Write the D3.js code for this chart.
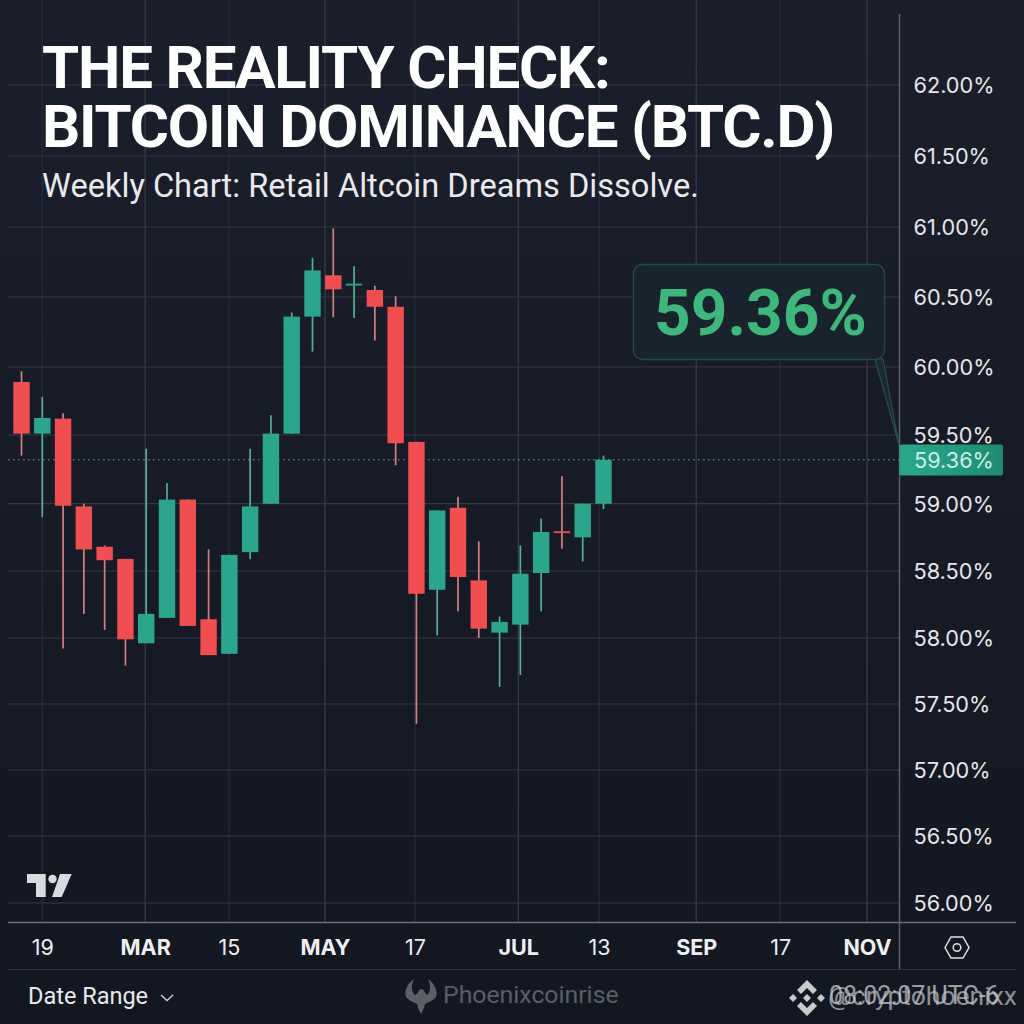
<!DOCTYPE html>
<html>
<head>
<meta charset="utf-8">
<title>Bitcoin Dominance</title>
<script src="https://cdn.jsdelivr.net/npm/d3@7/dist/d3.min.js"></script>
<style>
html, body { margin: 0; padding: 0; background: #161a25; overflow: hidden; }
text { font-family: Roboto, Inter, sans-serif; }
.axis text, text.inter { font-family: Inter, Roboto, sans-serif; }
</style>
</head>
<body>
<div id="chart"></div>
<script>
// candles, one entry per week, in percent
var opens  = [59.89,59.51,59.62,58.98,58.68,58.59,57.96,58.15,59.03,58.14,57.88,58.64,59.00,59.51,60.36,60.655,60.585,60.55,60.43,59.45,58.36,58.97,58.43,58.04,58.10,58.485,58.795,58.75,59.00];
var highs  = [59.97,59.78,59.66,59.00,58.69,58.59,59.40,59.15,59.03,58.66,58.62,59.40,59.645,60.39,60.78,60.99,60.72,60.58,60.505,59.45,58.95,59.05,58.72,58.16,58.69,58.89,59.20,59.00,59.35];
var lows   = [59.35,58.90,57.92,58.18,58.06,57.79,57.96,58.15,58.09,57.87,57.88,58.59,59.00,59.51,60.11,60.355,60.35,60.19,59.28,57.35,58.02,58.20,58.00,57.63,57.72,58.20,58.665,58.57,58.96];
var closes = [59.51,59.625,58.985,58.66,58.58,57.99,58.18,59.03,58.09,57.87,58.62,58.98,59.51,60.36,60.69,60.555,60.595,60.43,59.44,58.33,58.95,58.455,58.07,58.12,58.48,58.79,58.785,59.00,59.32];

var priceTicks = [62,61.5,61,60.5,60,59.5,59,58.5,58,57.5,57,56.5,56];
var timeTicks  = [1,5.95,9.98,14.6,18.93,23.9,27.79,32.46,36.5,40.68];
var timeLabels = ["19","MAR","15","MAY","17","JUL","13","SEP","17","NOV"];
var lastClose = 59.32;
var lastLabel = "59.36%";

var width = 1024, height = 1024;
var green = "#2ba68c", red = "#f04e50";

var svg = d3.select("#chart").append("svg").attr("width", width).attr("height", height).style("display", "block");

var defs = svg.append("defs");
var bg = defs.append("linearGradient").attr("id", "bg").attr("x1", 0).attr("y1", 0).attr("x2", 0).attr("y2", 1);
bg.append("stop").attr("offset", "0%").attr("stop-color", "#1b1f2b");
bg.append("stop").attr("offset", "100%").attr("stop-color", "#131722");
var tagFill = defs.append("linearGradient").attr("id", "tagFill").attr("x1", 0).attr("y1", 0).attr("x2", 1).attr("y2", 0);
tagFill.append("stop").attr("offset", "0%").attr("stop-color", "#2aa88c");
tagFill.append("stop").attr("offset", "100%").attr("stop-color", "#1f8a74");

svg.append("rect").attr("width", width).attr("height", height).attr("fill", "url(#bg)");

// the picture's price axis is not quite even, so the scale goes through every tick
var y = d3.scaleLinear()
    .domain(priceTicks)
    .range([85,156,227,297,367,435,503.7,571,638,704,770,836,903]);
var x = d3.scaleLinear().domain([0, 28]).range([21.5, 603.5]);

var plotRight = 899.5, plotBottom = 922.5;

// grid
svg.append("g").selectAll("line").data(timeTicks).enter().append("line")
    .attr("x1", function(d) { return x(d); }).attr("x2", function(d) { return x(d); })
    .attr("y1", 0).attr("y2", plotBottom)
    .attr("stroke", function(d, i) { return i % 2 ? "#3a3e49" : "#292d38"; })
    .attr("stroke-width", 1.2);
svg.append("g").selectAll("line").data(priceTicks).enter().append("line")
    .attr("x1", 8).attr("x2", plotRight)
    .attr("y1", function(d) { return y(d); }).attr("y2", function(d) { return y(d); })
    .attr("stroke", "#353944").attr("stroke-width", 1.2);

// last price line
svg.append("line").attr("x1", 8).attr("x2", plotRight)
    .attr("y1", y(lastClose)).attr("y2", y(lastClose))
    .attr("stroke", "#7f9d98").attr("stroke-width", 1.2).attr("stroke-dasharray", "1.5 3.5");

// candles
var candles = svg.append("g").selectAll("g").data(closes).enter().append("g");
candles.append("line")
    .attr("x1", function(d, i) { return x(i); }).attr("x2", function(d, i) { return x(i); })
    .attr("y1", function(d, i) { return y(highs[i]); }).attr("y2", function(d, i) { return y(lows[i]); })
    .attr("stroke", function(d, i) { return d >= opens[i] ? "#55ad9d" : "#d27f82"; })
    .attr("stroke-width", 1.7);
candles.append("rect")
    .attr("x", function(d, i) { return x(i) - 8.2; })
    .attr("width", 16.4)
    .attr("y", function(d, i) { return y(Math.max(d, opens[i])); })
    .attr("height", function(d, i) { return Math.max(Math.abs(y(d) - y(opens[i])), 1.8); })
    .attr("fill", function(d, i) { return d >= opens[i] ? green : red; });

// axis frame
svg.append("line").attr("x1", 8).attr("x2", 1016).attr("y1", plotBottom).attr("y2", plotBottom).attr("stroke", "#6a6d76").attr("stroke-width", 1.4);
svg.append("line").attr("x1", 8).attr("x2", 1016).attr("y1", 969.5).attr("y2", 969.5).attr("stroke", "#2f333d").attr("stroke-width", 1.2);
svg.append("line").attr("x1", plotRight).attr("x2", plotRight).attr("y1", 14).attr("y2", 969).attr("stroke", "#5f636d").attr("stroke-width", 1.4);

// price axis
var yAxis = d3.axisRight(y).tickValues(priceTicks).tickSize(0).tickPadding(14)
    .tickFormat(function(d) { return d.toFixed(2) + "%"; });
var yG = svg.append("g").attr("class", "axis").attr("transform", "translate(" + plotRight + ",0.8)").call(yAxis);
yG.select(".domain").remove();
yG.selectAll("text").attr("fill", "#e6e7ea").attr("font-size", 21.7);

// time axis
var xAxis = d3.axisBottom(x).tickValues(timeTicks).tickSize(0).tickPadding(0)
    .tickFormat(function(d, i) { return timeLabels[i]; });
var xG = svg.append("g").attr("class", "axis").attr("transform", "translate(0,936)").call(xAxis);
xG.select(".domain").remove();
xG.selectAll("text").attr("fill", "#eeeff1").attr("font-size", 21.5)
    .attr("font-weight", function(d, i) { return i % 2 ? 700 : 400; })
    .attr("dy", "0.9em");

// title
svg.append("text").attr("x", 42).attr("y", 87.5).attr("fill", "#ffffff").attr("font-size", 60).attr("font-weight", 700).attr("letter-spacing", -1.2).text("THE REALITY CHECK:");
svg.append("text").attr("x", 42).attr("y", 146.5).attr("fill", "#ffffff").attr("font-size", 60).attr("font-weight", 700).attr("letter-spacing", -1.2).text("BITCOIN DOMINANCE (BTC.D)");
svg.append("text").attr("x", 42).attr("y", 197).attr("fill", "#e8e9ec").attr("font-size", 32.6).text("Weekly Chart: Retail Altcoin Dreams Dissolve.");

// callout
svg.append("path").attr("d", "M875,359 L899,445 L883,359 Z").attr("fill", "#1a2a32").attr("stroke", "#27504f").attr("stroke-width", 1.2);
svg.append("rect").attr("x", 633.5).attr("y", 264.5).attr("width", 251).attr("height", 95).attr("rx", 9)
    .attr("fill", "#18232d").attr("stroke", "#25494b").attr("stroke-width", 1.4);
svg.append("text").attr("x", 654).attr("y", 335).attr("fill", "#3fb67c").attr("font-size", 64).attr("font-weight", 700).text(lastLabel);

// last price tag
svg.append("rect").attr("x", plotRight).attr("y", 444.5).attr("width", 103.5).attr("height", 31).attr("rx", 2).attr("fill", "url(#tagFill)");
svg.append("text").attr("class", "inter").attr("x", 914).attr("y", y(lastClose) + 8).attr("fill", "#c8f2e4").attr("font-size", 21.7).text(lastLabel);

// tradingview logo
svg.append("path").attr("fill", "#d9dbe1")
    .attr("d", "M27,874 H45.7 V897 H36 V883 H27 Z M60,874 H71.7 L61.7,897 H52 Z");
svg.append("circle").attr("cx", 52.5).attr("cy", 879).attr("r", 4.2).attr("fill", "#d9dbe1");

// settings hexagon
svg.append("path").attr("fill", "none").attr("stroke", "#e0e1e5").attr("stroke-width", 1.5)
    .attr("d", "M945,947.5 L951,937 H963 L969,947.5 L963,958 H951 Z");
svg.append("circle").attr("cx", 957).attr("cy", 947.5).attr("r", 3.8).attr("fill", "none").attr("stroke", "#e0e1e5").attr("stroke-width", 1.5);

// footer
svg.append("text").attr("x", 28).attr("y", 1004).attr("fill", "#e8e9ec").attr("font-size", 23.5).text("Date Range");
svg.append("path").attr("d", "M161,995 L167,1000.5 L173,995").attr("fill", "none").attr("stroke", "#d0d1d6").attr("stroke-width", 1.4);

// phoenix mark
svg.append("path").attr("fill", "#5e6068")
    .attr("d", "M414,979 C407,984 404,991 406,997 C409,1001 414,1002 417,1004 L418,1008 L421,1014 L424,1008 L425,1004 C428,1002 433,1001 436,997 C438,991 435,984 428,979 C431,985 431,991 427,995 C425,993 424,990 422,989 L419,990 C418,993 417,994 415,995 C411,991 411,985 414,979 Z");
svg.append("text").attr("x", 443).attr("y", 1003).attr("fill", "#5b5e66").attr("font-size", 24.8).text("Phoenixcoinrise");

// binance mark
var mark = svg.append("g").attr("fill", "#c9cace").attr("transform", "translate(807,998)");
mark.append("path").attr("d", "M0,-18 L10,-8 L6,-4 L0,-10 L-6,-4 L-10,-8 Z M0,18 L10,8 L6,4 L0,10 L-6,4 L-10,8 Z");
mark.append("path").attr("d", "M0,-4 L4,0 L0,4 L-4,0 Z M-14,-4 L-10,0 L-14,4 L-18,0 Z M14,-4 L18,0 L14,4 L10,0 Z");

svg.append("text").attr("x", 828).attr("y", 1005).attr("fill", "#8d8f95").attr("font-size", 26.5).text("@cryptohoenixx");
svg.append("text").attr("x", 829).attr("y", 1004).attr("fill", "#c4c5c9").attr("fill-opacity", 0.8).attr("font-size", 25).text("08:02:07 UTC-6");
</script>
</body>
</html>
